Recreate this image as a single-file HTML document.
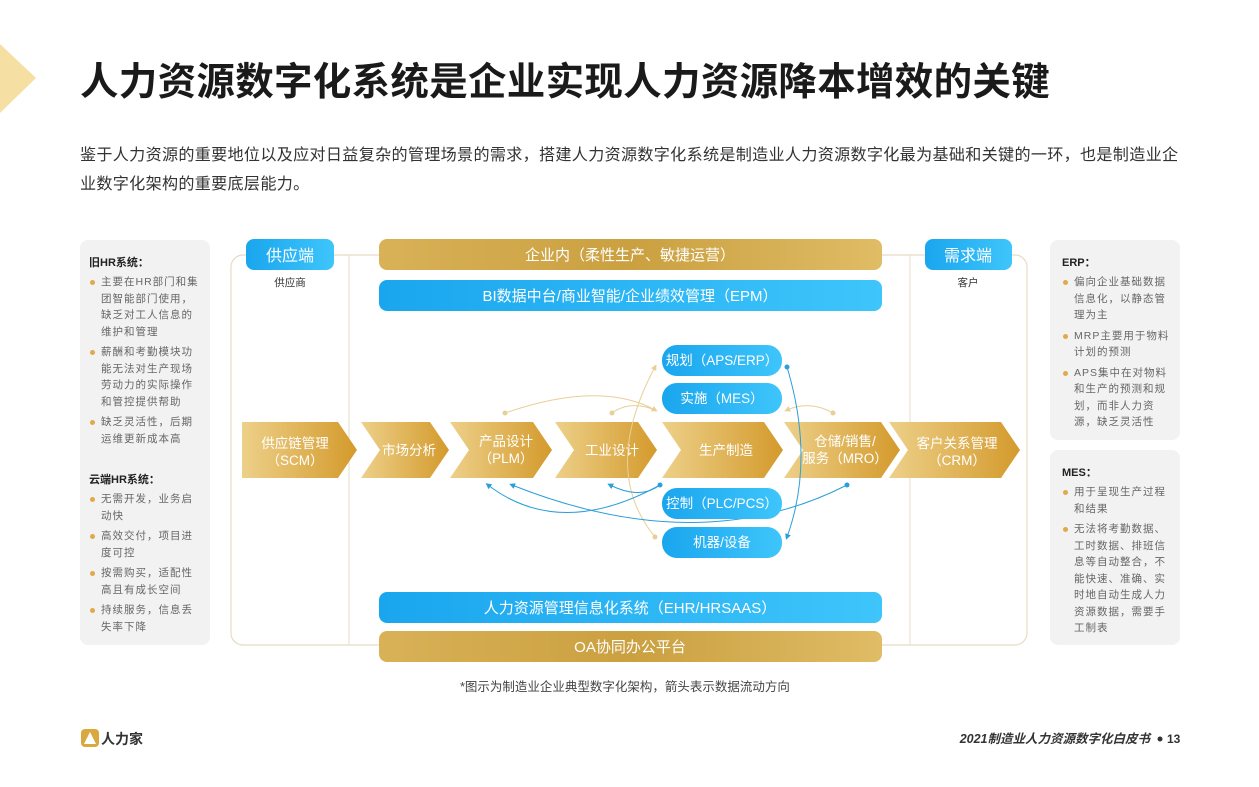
<!DOCTYPE html>
<html><head><meta charset="utf-8">
<style>
body{margin:0;width:1259px;height:787px;background:#fff;position:relative;overflow:hidden;font-family:"Liberation Sans","Noto Sans CJK SC",sans-serif;}
.abs{position:absolute;}
.title{left:80px;top:51px;font-size:38.5px;font-weight:bold;color:#1a1a1a;letter-spacing:0.3px;white-space:nowrap;}
.para{left:80px;top:141px;font-size:16.1px;letter-spacing:0.3px;line-height:29px;color:#333;white-space:nowrap;}
.panel{background:#f2f2f3;border-radius:8px;}
.ph{font-size:11px;font-weight:bold;color:#222;}
.pl{font-size:10.5px;color:#666;line-height:16.5px;position:relative;padding-left:12px;margin-top:4px;letter-spacing:1px}
.pl:before{content:"";position:absolute;left:1px;top:6px;width:5px;height:5px;border-radius:50%;background:#e0a94a;}
</style></head><body>
<svg class="abs" style="left:0;top:44px" width="40" height="70"><polygon points="0,0 36,34 0,69" fill="#f6dfa3"/></svg>
<div class="abs title">人力资源数字化系统是企业实现人力资源降本增效的关键</div>
<div class="abs para">鉴于人力资源的重要地位以及应对日益复杂的管理场景的需求，搭建人力资源数字化系统是制造业人力资源数字化最为基础和关键的一环，也是制造业企<br>业数字化架构的重要底层能力。</div>

<div class="abs panel" style="left:80px;top:240px;width:130px;height:405px;">
<div style="padding:14px 6px 0 9px">
<div class="ph">旧HR系统：</div>
<div class="pl">主要在HR部门和集团智能部门使用，缺乏对工人信息的维护和管理</div>
<div class="pl">薪酬和考勤模块功能无法对生产现场劳动力的实际操作和管控提供帮助</div>
<div class="pl">缺乏灵活性，后期运维更新成本高</div>
<div class="ph" style="margin-top:24px">云端HR系统：</div>
<div class="pl">无需开发，业务启动快</div>
<div class="pl">高效交付，项目进度可控</div>
<div class="pl">按需购买，适配性高且有成长空间</div>
<div class="pl">持续服务，信息丢失率下降</div>
</div></div>
<div class="abs panel" style="left:1050px;top:240px;width:130px;height:200px;">
<div style="padding:14px 6px 0 12px">
<div class="ph">ERP：</div>
<div class="pl">偏向企业基础数据信息化，以静态管理为主</div>
<div class="pl">MRP主要用于物料计划的预测</div>
<div class="pl">APS集中在对物料和生产的预测和规划，而非人力资源，缺乏灵活性</div>
</div></div>
<div class="abs panel" style="left:1050px;top:450px;width:130px;height:195px;">
<div style="padding:14px 6px 0 12px">
<div class="ph">MES：</div>
<div class="pl">用于呈现生产过程和结果</div>
<div class="pl">无法将考勤数据、工时数据、排班信息等自动整合，不能快速、准确、实时地自动生成人力资源数据，需要手工制表</div>
</div></div>

<svg class="abs" style="left:0;top:0" width="1259" height="787" font-family="Liberation Sans, Noto Sans CJK SC, sans-serif">
<defs>
<linearGradient id="g" x1="0" x2="1"><stop offset="0" stop-color="#edd089"/><stop offset="1" stop-color="#d49a2c"/></linearGradient>
<linearGradient id="gb" x1="0" x2="1"><stop offset="0" stop-color="#d9b157"/><stop offset="0.5" stop-color="#caa040"/><stop offset="1" stop-color="#e0bc66"/></linearGradient>
<linearGradient id="b" x1="0" x2="1"><stop offset="0" stop-color="#1aa6ee"/><stop offset="1" stop-color="#3ec5fb"/></linearGradient>
<marker id="ab" markerWidth="6" markerHeight="6" refX="3" refY="3" orient="auto"><path d="M0,0 L6,3 L0,6z" fill="#2b9fd8"/></marker>
<marker id="ag" markerWidth="6" markerHeight="6" refX="3" refY="3" orient="auto"><path d="M0,0 L6,3 L0,6z" fill="#e8cf95"/></marker>
</defs>
<rect x="231" y="255" width="796" height="390" rx="12" fill="none" stroke="#e6dcc4" stroke-width="1.2"/>
<line x1="349" y1="255" x2="349" y2="645" stroke="#e6dcc4"/>
<line x1="910" y1="255" x2="910" y2="645" stroke="#e6dcc4"/>

<rect x="246" y="239" width="88" height="31" rx="8" fill="url(#b)"/>
<text x="290" y="261" text-anchor="middle" fill="#fff" font-size="16">供应端</text>
<text x="290" y="286" text-anchor="middle" fill="#333" font-size="10.5">供应商</text>
<rect x="925" y="239" width="87" height="31" rx="8" fill="url(#b)"/>
<text x="968" y="261" text-anchor="middle" fill="#fff" font-size="16">需求端</text>
<text x="968" y="286" text-anchor="middle" fill="#333" font-size="10.5">客户</text>

<rect x="379" y="239" width="503" height="31" rx="8" fill="url(#gb)"/>
<text x="630" y="260" text-anchor="middle" fill="#fff" font-size="15">企业内（柔性生产、敏捷运营）</text>
<rect x="379" y="280" width="503" height="31" rx="8" fill="url(#b)"/>
<text x="630" y="301" text-anchor="middle" fill="#fff" font-size="15">BI数据中台/商业智能/企业绩效管理（EPM）</text>
<rect x="379" y="592" width="503" height="31" rx="8" fill="url(#b)"/>
<text x="630" y="613" text-anchor="middle" fill="#fff" font-size="15">人力资源管理信息化系统（EHR/HRSAAS）</text>
<rect x="379" y="631" width="503" height="31" rx="8" fill="url(#gb)"/>
<text x="630" y="652" text-anchor="middle" fill="#fff" font-size="15">OA协同办公平台</text>

<polygon points="242,422 338,422 357,450 338,478 242,478" fill="url(#g)"/>
<polygon points="361,422 430,422 449,450 430,478 361,478 380,450" fill="url(#g)"/>
<polygon points="450,422 533,422 552,450 533,478 450,478 469,450" fill="url(#g)"/>
<polygon points="555,422 638,422 657,450 638,478 555,478 574,450" fill="url(#g)"/>
<polygon points="662,422 764,422 783,450 764,478 662,478 681,450" fill="url(#g)"/>
<polygon points="784,422 881,422 900,450 881,478 784,478 803,450" fill="url(#g)"/>
<polygon points="889,422 1001,422 1020,450 1001,478 889,478 908,450" fill="url(#g)"/>
<g fill="#fff" font-size="13.5" text-anchor="middle">
<text x="295" y="448">供应链管理</text><text x="295" y="465">（SCM）</text>
<text x="409" y="455">市场分析</text>
<text x="506" y="446">产品设计</text><text x="506" y="463">（PLM）</text>
<text x="612" y="455">工业设计</text>
<text x="726" y="455">生产制造</text>
<text x="845" y="446">仓储/销售/</text><text x="845" y="463">服务（MRO）</text>
<text x="957" y="448">客户关系管理</text><text x="957" y="465">（CRM）</text>
</g>

<g fill="none" stroke-width="1">
<path d="M505,413 Q600,380 655,410" stroke="#e8cf95" marker-end="url(#ag)"/>
<path d="M612,413 Q630,400 655,410" stroke="#e8cf95"/>
<path d="M833,413 Q810,400 787,410" stroke="#e8cf95" marker-end="url(#ag)"/>
<path d="M655,537 Q600,470 655,367" stroke="#e8cf95" marker-end="url(#ag)"/>
<path d="M787,367 Q815,460 787,537" stroke="#2b9fd8" marker-end="url(#ab)"/>
<path d="M660,485 Q640,500 610,485" stroke="#2b9fd8" marker-end="url(#ab)"/>
<path d="M660,485 Q560,540 488,485" stroke="#2b9fd8" marker-end="url(#ab)"/>
<path d="M847,485 Q700,560 512,485" stroke="#2b9fd8" marker-end="url(#ab)"/>
</g>
<g fill="#e8cf95"><circle cx="505" cy="413" r="2.5"/><circle cx="612" cy="413" r="2.5"/><circle cx="833" cy="413" r="2.5"/><circle cx="655" cy="537" r="2.5"/></g>
<g fill="#2b9fd8"><circle cx="787" cy="367" r="2.5"/><circle cx="660" cy="485" r="2.5"/><circle cx="847" cy="485" r="2.5"/></g>

<g fill="url(#b)">
<rect x="662" y="345" width="120" height="31" rx="15"/>
<rect x="662" y="383" width="120" height="31" rx="15"/>
<rect x="662" y="488" width="120" height="31" rx="15"/>
<rect x="662" y="527" width="120" height="31" rx="15"/>
</g>
<g fill="#fff" font-size="13.5" text-anchor="middle">
<text x="722" y="365">规划（APS/ERP）</text>
<text x="722" y="403">实施（MES）</text>
<text x="722" y="508">控制（PLC/PCS）</text>
<text x="722" y="547">机器/设备</text>
</g>

<text x="625" y="691" text-anchor="middle" fill="#444" font-size="12.5">*图示为制造业企业典型数字化架构，箭头表示数据流动方向</text>

<rect x="81" y="729" width="18" height="18" rx="4" fill="#d9a93f"/>
<path d="M84,744 L90,732 L96,744 Z" fill="#fff"/>
<text x="101" y="744" fill="#333" font-size="14" font-weight="bold">人力家</text>
<text x="1150" y="743" text-anchor="end" fill="#333" font-size="12.5" font-weight="bold" font-style="italic">2021制造业人力资源数字化白皮书</text>
<circle cx="1160" cy="739" r="2.5" fill="#333"/>
<text x="1167" y="743" fill="#333" font-size="12" font-weight="bold">13</text>
</svg>
</body></html>
